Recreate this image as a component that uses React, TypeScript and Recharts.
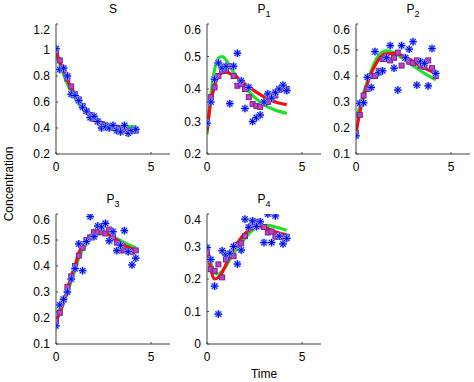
import React from "react";
import { ComposedChart, Line, Scatter, XAxis, YAxis } from "recharts";

// sample times of the measured points and of the fitted curves
const T = [0, 0.2, 0.4, 0.6, 0.8, 1, 1.2, 1.4, 1.6, 1.8, 2, 2.2, 2.4, 2.6, 2.8, 3, 3.2, 3.4, 3.6, 3.8, 4, 4.2];
const LINE_T = [0, 0.2, 0.4, 0.6, 0.8, 1, 1.2, 1.6, 2, 2.4, 2.8, 3.2, 3.6, 4.2];

// S
const sObs = [1.01, 0.85, 0.86, 0.8, 0.66, 0.65, 0.61, 0.56, 0.53, 0.48, 0.49, 0.45, 0.4, 0.41, 0.4, 0.42, 0.38, 0.37, 0.42, 0.36, 0.38, 0.39];
const sFit = [0.99, 0.92, 0.85, 0.78, 0.72, 0.66, 0.62, 0.57, 0.53, 0.5, 0.47, 0.45, 0.43, 0.42, 0.41, 0.4, 0.4, 0.39, 0.39, 0.38, 0.38, 0.38];
const sRed = [0.99, 0.91, 0.84, 0.77, 0.71, 0.66, 0.61, 0.54, 0.48, 0.44, 0.41, 0.395, 0.385, 0.38];
const sGreen = [0.97, 0.89, 0.81, 0.74, 0.68, 0.63, 0.585, 0.52, 0.475, 0.445, 0.425, 0.415, 0.41, 0.41];

// P1
const p1Obs = [0.295, 0.36, 0.43, 0.48, 0.465, 0.47, 0.355, 0.47, 0.51, 0.425, 0.34, 0.405, 0.3, 0.312, 0.32, 0.36, 0.385, 0.372, 0.39, 0.4, 0.412, 0.395];
const p1Fit = [0.3, 0.375, 0.405, 0.44, 0.455, 0.46, 0.47, 0.44, 0.41, 0.415, 0.4, 0.375, 0.354, 0.348, 0.345, 0.356, 0.36, 0.375, 0.38, 0.397, 0.4, 0.4];
const p1Red = [0.27, 0.36, 0.41, 0.44, 0.45, 0.452, 0.448, 0.435, 0.415, 0.398, 0.383, 0.37, 0.36, 0.352];
const p1Green = [0.26, 0.38, 0.46, 0.495, 0.5, 0.49, 0.47, 0.435, 0.405, 0.38, 0.36, 0.345, 0.335, 0.325];

// P2
const p2Obs = [0.17, 0.295, 0.297, 0.395, 0.356, 0.494, 0.413, 0.42, 0.47, 0.517, 0.43, 0.346, 0.517, 0.47, 0.503, 0.532, 0.365, 0.455, 0.449, 0.362, 0.506, 0.41];
const p2Fit = [0.18, 0.25, 0.325, 0.35, 0.4, 0.4, 0.42, 0.465, 0.465, 0.46, 0.47, 0.49, 0.44, 0.47, 0.455, 0.45, 0.46, 0.44, 0.435, 0.46, 0.43, 0.4];
const p2Red = [0.18, 0.26, 0.32, 0.37, 0.41, 0.44, 0.465, 0.485, 0.487, 0.48, 0.465, 0.447, 0.43, 0.41];
const p2Green = [0.24, 0.28, 0.335, 0.38, 0.42, 0.455, 0.48, 0.497, 0.49, 0.47, 0.45, 0.43, 0.41, 0.385];

// P3
const p3Obs = [0.17, 0.25, 0.272, 0.3, 0.35, 0.39, 0.485, 0.382, 0.494, 0.59, 0.513, 0.554, 0.551, 0.564, 0.497, 0.532, 0.459, 0.48, 0.536, 0.455, 0.404, 0.43];
const p3Fit = [0.19, 0.22, 0.27, 0.32, 0.36, 0.4, 0.44, 0.47, 0.5, 0.51, 0.53, 0.53, 0.53, 0.525, 0.54, 0.51, 0.49, 0.46, 0.46, 0.458, 0.455, 0.46];
const p3Red = [0.19, 0.22, 0.26, 0.31, 0.36, 0.4, 0.45, 0.5, 0.525, 0.53, 0.52, 0.5, 0.48, 0.46];
const p3Green = [0.22, 0.235, 0.26, 0.3, 0.34, 0.385, 0.43, 0.485, 0.515, 0.525, 0.52, 0.505, 0.49, 0.47];

// P4
const p4Obs = [0.297, 0.26, 0.178, 0.092, 0.287, 0.274, 0.279, 0.3, 0.246, 0.289, 0.384, 0.359, 0.379, 0.361, 0.376, 0.312, 0.4, 0.312, 0.394, 0.332, 0.308, 0.325];
const p4Fit = [0.28, 0.23, 0.225, 0.245, 0.205, 0.26, 0.275, 0.27, 0.305, 0.31, 0.332, 0.36, 0.362, 0.376, 0.376, 0.36, 0.343, 0.346, 0.33, 0.33, 0.33, 0.33];
const p4Red = [0.29, 0.23, 0.2, 0.205, 0.22, 0.245, 0.27, 0.31, 0.34, 0.355, 0.36, 0.355, 0.345, 0.335];
const p4Green = [0.3, 0.25, 0.22, 0.215, 0.225, 0.24, 0.26, 0.295, 0.325, 0.35, 0.362, 0.365, 0.36, 0.35];

const X_TICKS = [0, 5];
const FONT = "'Liberation Sans', Arial, Helvetica, sans-serif";
const BOX_W = 114;
const BOX_H = 130;
const Y_W = 40;

const pts = (ts: number[], vs: number[]) => ts.map((t, i) => ({ t, v: vs[i] }));

const Star = (p: any) => {
  const { cx, cy } = p;
  if (cx == null || cy == null) return null;
  const r = 3.8;
  const d = r * 0.72;
  const segs = [
    [cx - r, cy, cx + r, cy],
    [cx, cy - r, cx, cy + r],
    [cx - d, cy - d, cx + d, cy + d],
    [cx - d, cy + d, cx + d, cy - d],
  ];
  return (
    <g>
      {segs.map((s, i) => (
        <line key={"h" + i} x1={s[0]} y1={s[1]} x2={s[2]} y2={s[3]} stroke="#86a6ff" strokeWidth={2.2} />
      ))}
      {segs.map((s, i) => (
        <line key={"c" + i} x1={s[0]} y1={s[1]} x2={s[2]} y2={s[3]} stroke="#0000e6" strokeWidth={1} />
      ))}
    </g>
  );
};

const Square = (p: any) => {
  const { cx, cy } = p;
  if (cx == null || cy == null) return null;
  return <rect x={cx - 2.5} y={cy - 2.5} width={5} height={5} fill="#c83cc0" stroke="#6e2a90" strokeWidth={1} />;
};

interface PanelProps {
  title: string;
  sub?: string;
  left: number;
  top: number;
  yTicks: number[];
  obs: number[];
  fit: number[];
  red: number[];
  green: number[];
}

function Panel({ title, sub, left, top, yTicks, obs, fit, red, green }: PanelProps) {
  const yDomain = [yTicks[0], yTicks[yTicks.length - 1]];
  const axisStroke = "#404040";
  return (
    <>
      <div
        style={{
          position: "absolute",
          left,
          top: top - 22,
          width: BOX_W,
          textAlign: "center",
          fontFamily: FONT,
          fontSize: 12,
          lineHeight: "14px",
          color: "#000",
        }}
      >
        {title}
        {sub && <sub style={{ fontSize: 9, verticalAlign: "-4px" }}>{sub}</sub>}
      </div>
      <div style={{ position: "absolute", left: left - Y_W, top: top - 2 }}>
        <ComposedChart
          width={Y_W + BOX_W + 2}
          height={BOX_H + 22}
          margin={{ top: 2, right: 2, bottom: 0, left: 0 }}
        >
          <XAxis
            dataKey="t"
            type="number"
            domain={[0, 6]}
            ticks={X_TICKS}
            allowDataOverflow
            height={20}
            stroke={axisStroke}
            tickSize={-2}
            tickMargin={10}
            tick={{ fontSize: 12, fill: "#000", fontFamily: FONT }}
          />
          <XAxis
            xAxisId="top"
            orientation="top"
            type="number"
            domain={[0, 6]}
            ticks={X_TICKS}
            height={0}
            stroke={axisStroke}
            tickSize={-2}
            tickFormatter={() => ""}
          />
          <YAxis
            dataKey="v"
            type="number"
            domain={yDomain}
            ticks={yTicks}
            allowDataOverflow
            width={Y_W}
            stroke={axisStroke}
            tickSize={-2}
            tickMargin={8}
            tick={{ fontSize: 12, fill: "#000", fontFamily: FONT }}
          />
          <YAxis
            yAxisId="right"
            orientation="right"
            type="number"
            domain={yDomain}
            ticks={yTicks}
            width={0}
            stroke={axisStroke}
            tickSize={-2}
            tickFormatter={() => ""}
          />
          <Line
            data={pts(LINE_T, green)}
            dataKey="v"
            type="monotone"
            stroke="#22e02a"
            strokeWidth={3.2}
            dot={false}
            isAnimationActive={false}
          />
          <Line
            data={pts(LINE_T, red)}
            dataKey="v"
            type="monotone"
            stroke="#f01010"
            strokeWidth={3.2}
            dot={false}
            isAnimationActive={false}
          />
          <Scatter data={pts(T, fit)} dataKey="v" shape={Square} isAnimationActive={false} />
          <Scatter data={pts(T, obs)} dataKey="v" shape={Star} isAnimationActive={false} />
        </ComposedChart>
      </div>
    </>
  );
}

export default function App() {
  return (
    <div
      style={{
        position: "absolute",
        left: 0,
        top: 0,
        width: 474,
        height: 382,
        background: "#fff",
        overflow: "hidden",
      }}
    >
      <Panel title="S" left={56} top={24} yTicks={[0.2, 0.4, 0.6, 0.8, 1, 1.2]} obs={sObs} fit={sFit} red={sRed} green={sGreen} />
      <Panel title="P" sub="1" left={207} top={24} yTicks={[0.2, 0.3, 0.4, 0.5, 0.6]} obs={p1Obs} fit={p1Fit} red={p1Red} green={p1Green} />
      <Panel title="P" sub="2" left={356} top={24} yTicks={[0.1, 0.2, 0.3, 0.4, 0.5, 0.6]} obs={p2Obs} fit={p2Fit} red={p2Red} green={p2Green} />
      <Panel title="P" sub="3" left={56} top={214} yTicks={[0.1, 0.2, 0.3, 0.4, 0.5, 0.6]} obs={p3Obs} fit={p3Fit} red={p3Red} green={p3Green} />
      <Panel title="P" sub="4" left={207} top={214} yTicks={[0, 0.1, 0.2, 0.3, 0.4]} obs={p4Obs} fit={p4Fit} red={p4Red} green={p4Green} />

      <div
        style={{
          position: "absolute",
          left: 9,
          top: 184,
          transform: "translate(-50%, -50%) rotate(-90deg)",
          fontFamily: FONT,
          fontSize: 12,
          whiteSpace: "nowrap",
          color: "#000",
        }}
      >
        Concentration
      </div>
      <div
        style={{
          position: "absolute",
          left: 207,
          width: BOX_W,
          top: 367,
          textAlign: "center",
          fontFamily: FONT,
          fontSize: 12,
          color: "#000",
        }}
      >
        Time
      </div>
    </div>
  );
}
